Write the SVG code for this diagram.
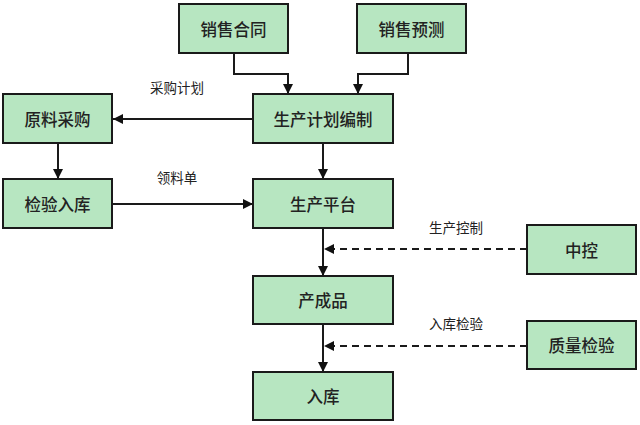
<svg xmlns="http://www.w3.org/2000/svg" width="640" height="425" viewBox="0 0 640 425">
<style>
.box{fill:#b7e6c1;stroke:#1a1a1a;stroke-width:2}
.t{font-family:"Noto Sans CJK SC","Noto Sans",sans-serif;font-size:16.5px;font-weight:500;fill:#222;text-anchor:middle;dominant-baseline:central}
.l{font-family:"Noto Sans CJK SC","Noto Sans",sans-serif;font-size:13.5px;fill:#222;text-anchor:middle;dominant-baseline:central}
.c{fill:none;stroke:#1a1a1a;stroke-width:2}
.d{stroke-dasharray:7,5}
</style>
<defs>
<marker id="ah" viewBox="0 0 10 10" refX="10" refY="5" markerWidth="10" markerHeight="10" markerUnits="userSpaceOnUse" orient="auto">
<path d="M0,0 L10,5 L0,10 z" fill="#111"/>
</marker>
</defs>
<rect width="640" height="425" fill="#fff"/>
<g id="connectors">
<path class="c" d="M234,53 V74 H288 V94" marker-end="url(#ah)"/>
<path class="c" d="M408,53 V74 H358 V94" marker-end="url(#ah)"/>
<path class="c" d="M253,119 H113" marker-end="url(#ah)"/>
<path class="c" d="M58,143 V179" marker-end="url(#ah)"/>
<path class="c" d="M112,204 H253" marker-end="url(#ah)"/>
<path class="c" d="M323,143 V179" marker-end="url(#ah)"/>
<path class="c" d="M323,228 V276" marker-end="url(#ah)"/>
<path class="c" d="M323,324 V372" marker-end="url(#ah)"/>
<path class="c d" d="M527,249 H324" marker-end="url(#ah)"/>
<path class="c d" d="M527,346 H324" marker-end="url(#ah)"/>
<text class="l" x="177" y="87">采购计划</text>
<text class="l" x="177" y="177">领料单</text>
<text class="l" x="456" y="227">生产控制</text>
<text class="l" x="456" y="323">入库检验</text>
</g>
<g id="n1"><rect class="box" x="179" y="4" width="109" height="49"/><text class="t" x="233.5" y="28.5">销售合同</text></g>
<g id="n2"><rect class="box" x="357" y="4" width="109" height="49"/><text class="t" x="411.5" y="28.5">销售预测</text></g>
<g id="n3"><rect class="box" x="253" y="94" width="140" height="49"/><text class="t" x="323" y="118.5">生产计划编制</text></g>
<g id="n4"><rect class="box" x="3" y="94" width="109" height="49"/><text class="t" x="57.5" y="118.5">原料采购</text></g>
<g id="n5"><rect class="box" x="3" y="179" width="109" height="49"/><text class="t" x="57.5" y="203.5">检验入库</text></g>
<g id="n6"><rect class="box" x="253" y="179" width="140" height="49"/><text class="t" x="323" y="203.5">生产平台</text></g>
<g id="n7"><rect class="box" x="527" y="225" width="109" height="49"/><text class="t" x="581.5" y="249.5">中控</text></g>
<g id="n8"><rect class="box" x="253" y="276" width="140" height="48"/><text class="t" x="323" y="300">产成品</text></g>
<g id="n9"><rect class="box" x="527" y="321" width="109" height="48"/><text class="t" x="581.5" y="345">质量检验</text></g>
<g id="n10"><rect class="box" x="253" y="372" width="140" height="48"/><text class="t" x="323" y="396">入库</text></g>
</svg>
